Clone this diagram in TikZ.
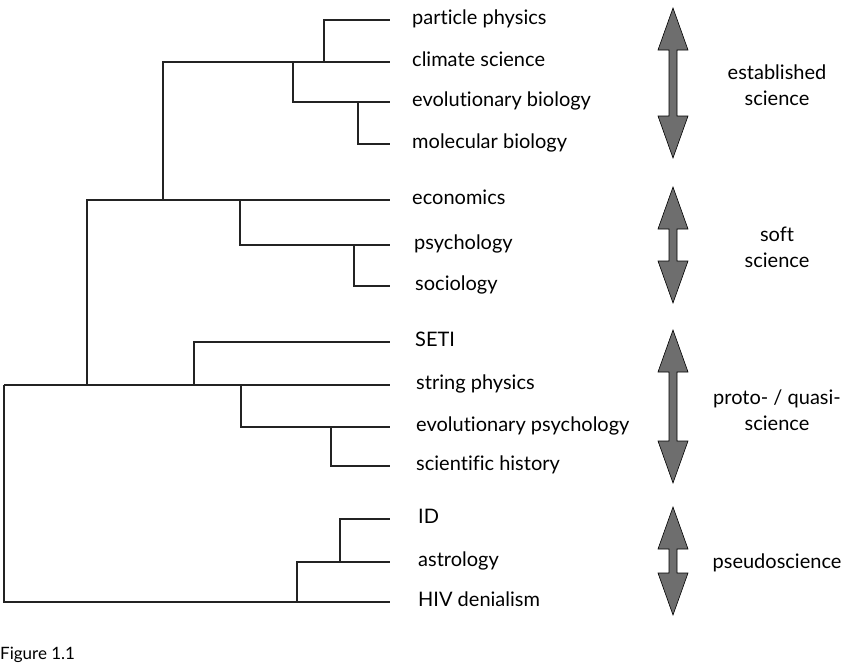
\documentclass[tikz,border=0pt]{standalone}
\usepackage{fontspec}
\setmainfont{Lato}[Ligatures=NoCommon]
\usepackage{tikz}
\usetikzlibrary{positioning,calc}
\definecolor{treeline}{RGB}{35,35,35}
\definecolor{arrowgray}{RGB}{110,110,110}

\tikzset{
  branch/.style={draw=treeline, line width=1.5pt},
  leaf/.style={inner sep=0pt, anchor=west, text height=2ex, text depth=.3ex, font=\fontsize{20}{24}\selectfont},
  group/.style={align=center, inner sep=0pt, font=\fontsize{20}{26}\selectfont},
  rangearrow/.style={fill=arrowgray, draw=black, line width=0.6pt, line join=miter}
}

% fat double arrow at x=673 from #1 to #2
\newcommand{\rangearrow}[2]{%
  \filldraw[rangearrow] (673,#1) -- (688,#1+42) -- (677,#1+42) -- (677,#2-42) -- (688,#2-42)
    -- (673,#2) -- (658,#2-42) -- (669,#2-42) -- (669,#1+42) -- (658,#1+42) -- cycle;}

\begin{document}
\begin{tikzpicture}[x=1pt, y=-1pt]
    \useasboundingbox (0,0) rectangle (850,664);

    % leaf ends
    \coordinate (pp)   at (390,20);
    \coordinate (cs)   at (390,62);
    \coordinate (eb)   at (390,102);
    \coordinate (mb)   at (390,144);
    \coordinate (ec)   at (390,200);
    \coordinate (psy)  at (390,245);
    \coordinate (soc)  at (390,286);
    \coordinate (seti) at (390,342);
    \coordinate (sp)   at (390,385);
    \coordinate (ep)   at (390,427);
    \coordinate (sh)   at (390,466);
    \coordinate (id)   at (390,519);
    \coordinate (ast)  at (390,562);
    \coordinate (hiv)  at (390,602);

    % leaf labels
    \node[leaf, right=22pt of pp]   (pp-lbl)   {particle physics};
    \node[leaf, right=22pt of cs]   (cs-lbl)   {climate science};
    \node[leaf, right=22pt of eb]   (eb-lbl)   {evolutionary biology};
    \node[leaf, right=22pt of mb]   (mb-lbl)   {molecular biology};
    \node[leaf, right=22pt of ec]   (ec-lbl)   {economics};
    \node[leaf, right=24pt of psy]  (psy-lbl)  {psychology};
    \node[leaf, right=25pt of soc]  (soc-lbl)  {sociology};
    \node[leaf, right=25pt of seti] (seti-lbl) {SETI};
    \node[leaf, right=26pt of sp]   (sp-lbl)   {string physics};
    \node[leaf, right=26pt of ep]   (ep-lbl)   {evolutionary psychology};
    \node[leaf, right=26pt of sh]   (sh-lbl)   {scientific history};
    \node[leaf, right=28pt of id]   (id-lbl)   {ID};
    \node[leaf, right=28pt of ast]  (ast-lbl)  {astrology};
    \node[leaf, right=28pt of hiv]  (hiv-lbl)  {HIV denialism};

    % joins
    \coordinate (root)  at (4,385);
    \coordinate (jsoft) at (87,385);
    \coordinate (jest)  at (163,200);
    \coordinate (jpp)   at (324,62);
    \coordinate (jeb)   at (293,62);
    \coordinate (jmb)   at (358,102);
    \coordinate (jpsy)  at (240,200);
    \coordinate (jsoc)  at (354,245);
    \coordinate (jseti) at (194,385);
    \coordinate (jep)   at (241,385);
    \coordinate (jsh)   at (331,427);
    \coordinate (jast)  at (297,602);
    \coordinate (jid)   at (340,562);

    \draw[branch] (root) -- (sp);
    \draw[branch] (root) |- (hiv);
    \draw[branch] (jsoft) |- (ec);
    \draw[branch] (jest) |- (cs);
    \draw[branch] (jpp) |- (pp);
    \draw[branch] (jeb) |- (eb);
    \draw[branch] (jmb) |- (mb);
    \draw[branch] (jpsy) |- (psy);
    \draw[branch] (jsoc) |- (soc);
    \draw[branch] (jseti) |- (seti);
    \draw[branch] (jep) |- (ep);
    \draw[branch] (jsh) |- (sh);
    \draw[branch] (jast) |- (ast);
    \draw[branch] (jid) |- (id);

    % groups
    \rangearrow{8}{158}
    \rangearrow{187}{303}
    \rangearrow{330}{483}
    \rangearrow{507}{615}

    \node[group] (established) at (777,85)  {established\\science};
    \node[group] (soft)        at (777,247) {soft\\science};
    \node[group] (proto)       at (777,410) {proto- / quasi-\\science};
    \node[group] (pseudo)      at (777,563) {pseudoscience};

    \node[leaf, font=\fontsize{17}{20}\selectfont] (caption) at (0,655) {Figure 1.1};
\end{tikzpicture}
\end{document}
